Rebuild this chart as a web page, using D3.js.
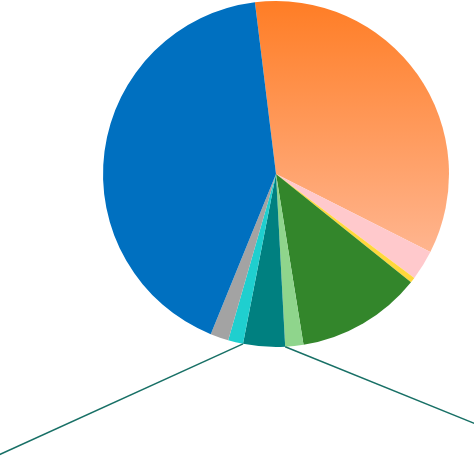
<!DOCTYPE html>
<html>
<head>
<meta charset="utf-8">
<script src="https://cdn.jsdelivr.net/npm/d3@7"></script>
<style>
  html, body { margin: 0; padding: 0; background: #fff; }
</style>
</head>
<body>
<div id="chart"></div>
<script>
const categories = ["A", "B", "C", "D", "E", "F", "G", "H", "I"];
const values = [34.4, 2.8, 0.5, 11.7, 1.7, 3.9, 1.4, 1.7, 41.9];
const colors = ["url(#orangeGrad)", "#ffc9cc", "#ffd83b", "#33862b", "#8fd58c",
                "#008080", "#1fcfcf", "#a3a3a3", "#0070c0"];
// slice that is broken out into the (off-screen) secondary chart
const splitCategory = "F";

const width = 474;
const height = 474;
const cx = 276;
const cy = 174;
const radius = 173;

const svg = d3.select("#chart")
  .append("svg")
  .attr("width", width)
  .attr("height", height);

const grad = svg.append("defs")
  .append("linearGradient")
  .attr("id", "orangeGrad")
  .attr("x1", 0).attr("y1", 0)
  .attr("x2", 0).attr("y2", 1);
grad.append("stop").attr("offset", "0%").attr("stop-color", "#ff7d25");
grad.append("stop").attr("offset", "100%").attr("stop-color", "#ffb58f");

const data = categories.map((c, i) => ({ cat: c, value: values[i], color: colors[i] }));

const startAngle = -7 * Math.PI / 180;
const pie = d3.pie()
  .sort(null)
  .value((d) => d.value)
  .startAngle(startAngle)
  .endAngle(startAngle + 2 * Math.PI);

const arc = d3.arc().innerRadius(0).outerRadius(radius);

const g = svg.append("g").attr("transform", `translate(${cx},${cy})`);

const arcs = pie(data);

g.selectAll("path.slice")
  .data(arcs)
  .enter()
  .append("path")
  .attr("class", "slice")
  .attr("d", arc)
  .attr("fill", (d) => d.data.color);

// connector lines towards the secondary chart below the view
const split = arcs.find((d) => d.data.cat === splitCategory);
const edge = (a) => [radius * Math.sin(a), -radius * Math.cos(a)];
const p1 = edge(split.endAngle);   // left edge of slice
const p2 = edge(split.startAngle); // right edge of slice
const len = 600;
const leftDir = Math.atan2(0.455, -1);
const rightDir = Math.atan2(0.405, 1);

g.append("line")
  .attr("x1", p1[0]).attr("y1", p1[1])
  .attr("x2", p1[0] + len * Math.cos(leftDir))
  .attr("y2", p1[1] + len * Math.sin(leftDir))
  .attr("stroke", "#187066")
  .attr("stroke-width", 1.5);

g.append("line")
  .attr("x1", p2[0]).attr("y1", p2[1])
  .attr("x2", p2[0] + len * Math.cos(rightDir))
  .attr("y2", p2[1] + len * Math.sin(rightDir))
  .attr("stroke", "#187066")
  .attr("stroke-width", 1.5);
</script>
</body>
</html>
